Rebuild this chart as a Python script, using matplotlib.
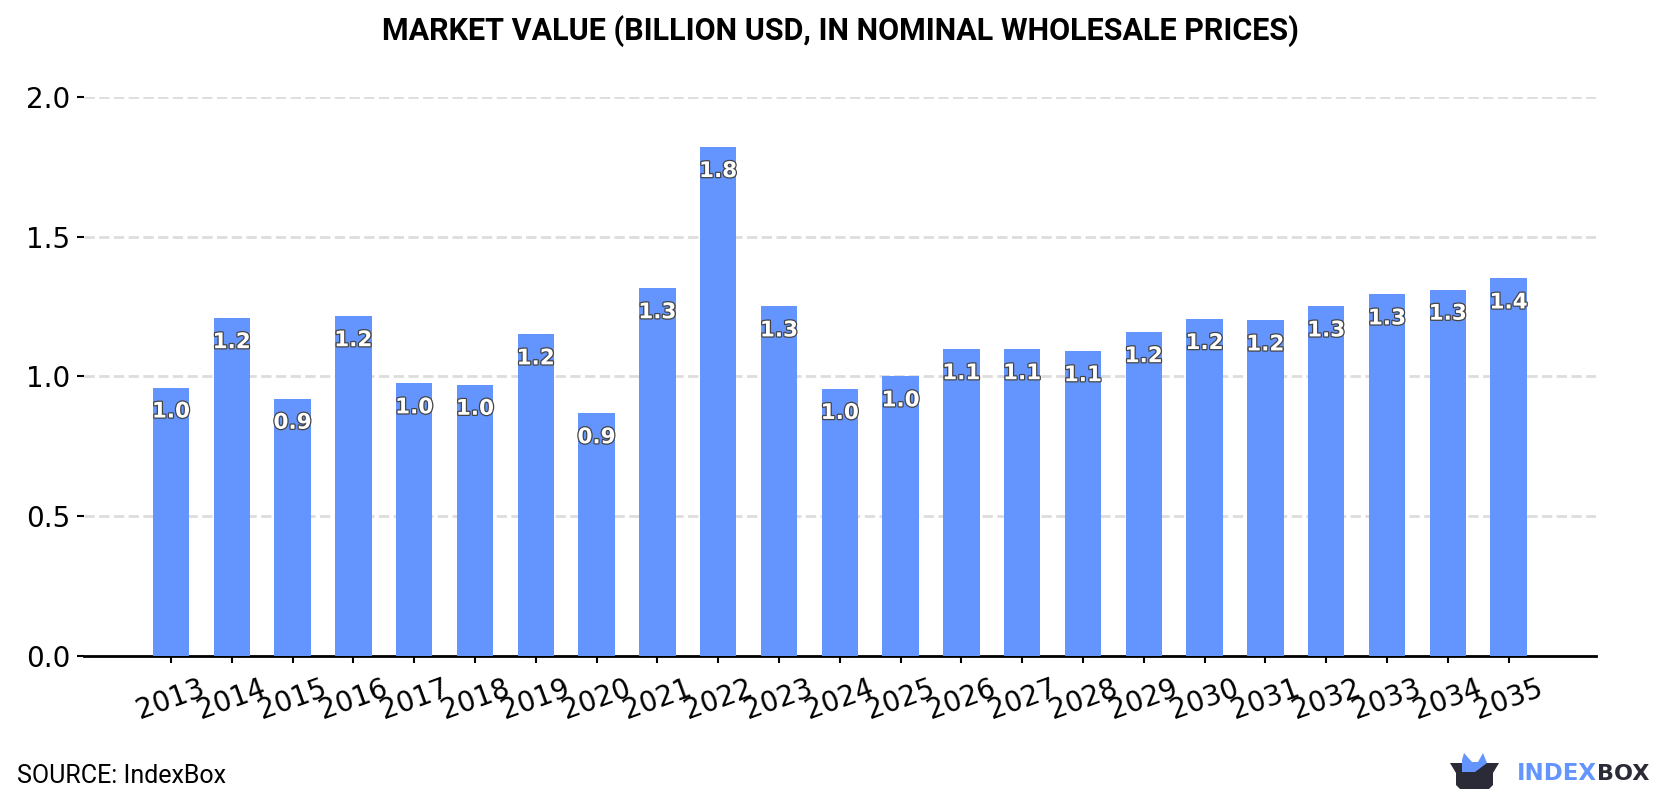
import matplotlib
matplotlib.use('Agg')
import matplotlib.pyplot as plt
import matplotlib.patheffects as pe
from matplotlib.patches import Polygon

years = [2013, 2014, 2015, 2016, 2017, 2018, 2019, 2020, 2021, 2022, 2023, 2024,
         2025, 2026, 2027, 2028, 2029, 2030, 2031, 2032, 2033, 2034, 2035]
values = [0.96, 1.208, 0.92, 1.215, 0.975, 0.97, 1.1501, 0.868, 1.315, 1.82, 1.2501, 0.955,
          1.0, 1.097, 1.097, 1.09, 1.158, 1.205, 1.2, 1.2501, 1.293, 1.31, 1.35]
y_ticks = [0.0, 0.5, 1.0, 1.5, 2.0]

BAR_COLOR = '#6495ff'
DARK = '#2a2b36'

fig = plt.figure(figsize=(16.8, 8), dpi=100)
ax = fig.add_axes([84 / 1680, 1 - 656 / 800, 1511.5 / 1680, (656 - 96.7) / 800])

positions = list(range(len(years)))
ax.bar(positions, values, width=0.6, color=BAR_COLOR, zorder=3)

for x, v in zip(positions, values):
    ax.annotate(f'{v:.1f}', (x, v), xytext=(0, -24), textcoords='offset pixels',
                ha='center', va='center', fontsize=15.5, fontweight='bold', color='white', zorder=4,
                path_effects=[pe.withStroke(linewidth=1.8, foreground='#444444')])

ax.set_xlim(-1.43, 22 + 1.43)
ax.set_ylim(0, 2.0)
ax.set_xticks(positions)
ax.set_xticklabels(years, rotation=20, fontsize=20)
ax.set_yticks(y_ticks)
ax.set_yticklabels([f'{t:.1f}' for t in y_ticks], fontsize=20)
ax.tick_params(axis='x', length=5, width=1.5, pad=8)
ax.tick_params(axis='y', length=5, width=1.5, pad=5)
ax.grid(axis='y', color='#dddddd', linestyle='--', linewidth=2, zorder=0)
ax.set_axisbelow(True)
for side in ['top', 'right', 'left']:
    ax.spines[side].set_visible(False)
ax.spines['bottom'].set_linewidth(2)

fig.text(0.5, 1 - 31 / 800, 'MARKET VALUE (BILLION USD, IN NOMINAL WHOLESALE PRICES)',
         ha='center', va='center', fontsize=22, fontweight='bold', family='Roboto')
fig.text(17 / 1680, 1 - 776 / 800, 'SOURCE: IndexBox', ha='left', va='center',
         fontsize=18, family='Roboto')

# logo: box with blue crown, then the wordmark
def px(x, y):
    return (x / 1680, 1 - y / 800)

crown = [px(1462, 772), px(1462, 760), px(1464, 753), px(1472, 762), px(1478, 762),
         px(1483, 753), px(1487, 763), px(1475, 772)]
box = [px(1450, 763), px(1499, 763), px(1493, 773), px(1493, 785), px(1489, 789),
       px(1460, 789), px(1456, 785), px(1456, 773)]
fig.add_artist(Polygon(box, closed=True, transform=fig.transFigure, color=DARK, lw=0))
fig.add_artist(Polygon(crown, closed=True, transform=fig.transFigure, color=BAR_COLOR, lw=0))
fig.text(1517 / 1680, 1 - 773.5 / 800, 'INDEX', ha='left', va='center', fontsize=16.5,
         fontweight='bold', color=BAR_COLOR)
fig.text(1597 / 1680, 1 - 773.5 / 800, 'BOX', ha='left', va='center', fontsize=16,
         fontweight='bold', color=DARK)

fig.savefig('out.png', dpi=100)
